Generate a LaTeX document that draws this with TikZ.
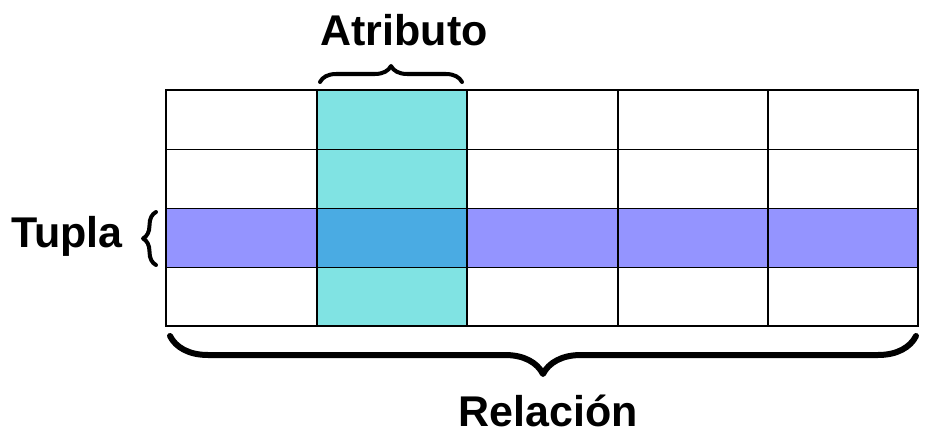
\documentclass[tikz,border=0pt]{standalone}
\usepackage{fontspec}
\setmainfont{Liberation Sans}
\usetikzlibrary{decorations.pathreplacing}
\begin{document}
\begin{tikzpicture}[x=1pt,y=-1pt,
  lbl/.style={font=\fontsize{43}{47}\selectfont\bfseries,inner sep=0},
  br/.style={decorate,line width=#1,line cap=round,line join=round}]
\useasboundingbox (0,0) rectangle (950,444);
\fill[white] (0,0) rectangle (950,444);
\fill[fill={rgb,255:red,128;green,227;blue,227}] (317,90) rectangle (467,326);
\fill[fill={rgb,255:red,148;green,148;blue,255}] (166,208) rectangle (918,267);
\fill[fill={rgb,255:red,74;green,171;blue,227}] (317,208) rectangle (467,267);
\foreach \y in {149,208,267} \draw[line width=1pt] (166,\y) -- (918,\y);
\foreach \x in {317,467,618,768} \draw[line width=1.5pt] (\x,90) -- (\x,326);
\draw[line width=2pt] (166,90) rectangle (918,326);
\coordinate (ta) at (320,82); \coordinate (tb) at (462,82);
\draw[br=4pt,decoration={brace,amplitude=16pt}] (ta) -- (tb);
\coordinate (la) at (156,265); \coordinate (lb) at (156,212);
\draw[br=4pt,decoration={brace,amplitude=13pt}] (la) -- (lb);
\coordinate (ba) at (916,336); \coordinate (bb) at (170,336);
\draw[br=6pt,decoration={brace,amplitude=38pt}] (ba) -- (bb);
\node[lbl] (atr) at (404,30) {Atributo};
\node[lbl] (tup) at (67,236) {Tupla};
\node[lbl] (rel) at (548,411) {Relación};
\end{tikzpicture}
\end{document}
